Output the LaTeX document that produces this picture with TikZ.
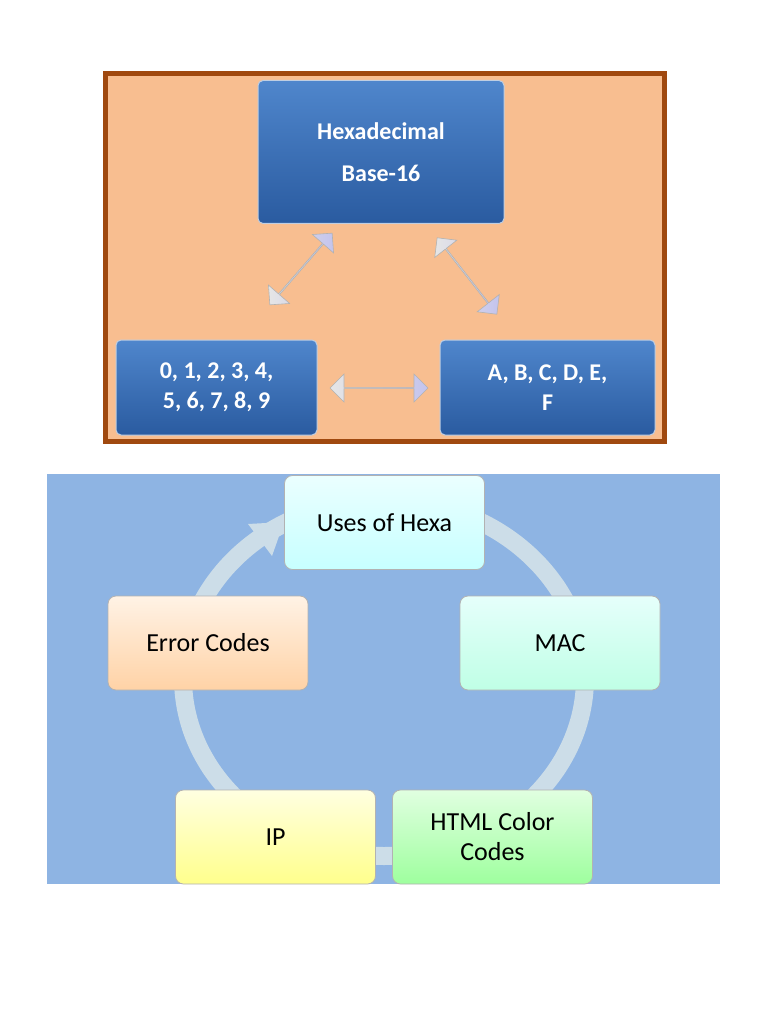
\documentclass[tikz,border=0pt]{standalone}
\usepackage{fontspec}
\setmainfont{Carlito}
\usetikzlibrary{shapes.arrows}
\definecolor{brownb}{HTML}{A0490F}
\definecolor{peach}{HTML}{F8BE90}
\definecolor{bluet}{HTML}{4F86CC}
\definecolor{blueb}{HTML}{2A5BA0}
\definecolor{panel}{HTML}{8EB4E3}
\definecolor{ring}{HTML}{CCDDE8}
\tikzset{
 bbox/.style={draw=white!70!blueb,line width=1pt,rounded corners=5pt,top color=bluet,bottom color=blueb,text=white,font=\bfseries\fontsize{24}{30}\selectfont,align=center,inner sep=0pt},
 darr/.style={double arrow,double arrow head extend=6pt,minimum width=28pt,inner sep=0pt,draw=gray!60,line width=0.6pt,left color=white!80!gray,right color=gray!45!blue!30},
 cbox/.style={draw=gray!60,line width=0.8pt,rounded corners=8pt,font=\fontsize{26}{30}\selectfont,align=center,inner sep=0pt,minimum width=200pt,minimum height=94pt}
}
\begin{document}
\begin{tikzpicture}[x=1pt,y=-1pt]
\useasboundingbox[fill=white] (0,0) rectangle (768,1024);
\draw[brownb,line width=5pt,fill=peach] (105,74) rectangle (664,441);
\node[bbox,minimum width=246pt,minimum height=143pt] (hex) at (381,152) {Hexadecimal\\[12pt]Base-16};
\node[bbox,minimum width=201pt,minimum height=95pt] (dig) at (216.5,387.5) {0, 1, 2, 3, 4,\\5, 6, 7, 8, 9};
\node[bbox,minimum width=215pt,minimum height=95pt] (let) at (547.5,387.5) {A, B, C, D, E,\\F};
\node[darr,minimum height=95pt,rotate=49] (a1) at (301,269) {};
\node[darr,minimum height=97pt,rotate=-52] (a2) at (467,276) {};
\node[darr,minimum height=98pt] (a3) at (379,388) {};
\fill[panel] (47,474) rectangle (720,884);
\draw[ring,line width=18pt] (384,678) ellipse [x radius=201pt,y radius=178pt];
\fill[ring] (284,522) -- (248,524) -- (272,556) -- cycle;
\node[cbox,top color=cyan!8,bottom color=cyan!22] (uses) at (384.5,522.5) {Uses of Hexa};
\node[cbox,top color=green!15!cyan!10,bottom color=green!40!cyan!25] (mac) at (560,643) {MAC};
\node[cbox,top color=green!12,bottom color=green!38] (html) at (492.5,837) {HTML Color\\Codes};
\node[cbox,top color=yellow!12,bottom color=yellow!45] (ip) at (275.5,837) {IP};
\node[cbox,top color=orange!10,bottom color=orange!35] (err) at (208,643) {Error Codes};
\end{tikzpicture}
\end{document}
